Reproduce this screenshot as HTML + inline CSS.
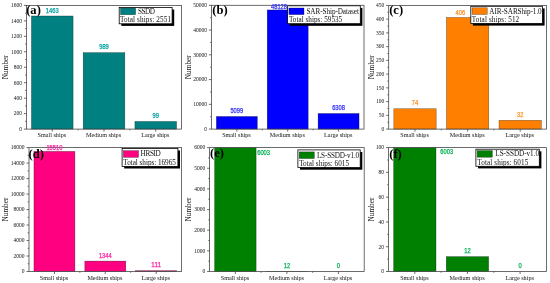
<!DOCTYPE html>
<html lang="en">
<head>
<meta charset="utf-8">
<title>Ship size distribution of SAR ship datasets</title>
<style>
html,body{margin:0;padding:0;background:#fff;}
body{width:550px;height:283px;overflow:hidden;}
svg{display:block;}
text{font-family:"Liberation Serif",serif;fill:#111;}
.tk{font-size:5.5px;}
.xl{font-size:6.15px;}
.yt{font-size:7.3px;}
.lg{font-size:7.2px;}
.pl{font-size:12.6px;font-weight:bold;fill:#000;}
.vl{font-family:"Liberation Sans",sans-serif;font-size:6.8px;stroke-width:0.25px;}
</style>
</head>
<body>
<svg width="550" height="283" viewBox="0 0 550 283">
<defs><filter id="soft" x="-5%" y="-5%" width="110%" height="110%"><feGaussianBlur stdDeviation="0.3"/></filter></defs>
<rect x="0" y="0" width="550" height="283" fill="#fff"/>
<g class="panel" id="panel-a">
<rect x="31.44" y="15.99" width="41.65" height="113.11" fill="#008080" stroke="rgba(0,0,0,0.55)" stroke-width="0.5"/>
<rect x="83.18" y="52.64" width="41.65" height="76.46" fill="#008080" stroke="rgba(0,0,0,0.55)" stroke-width="0.5"/>
<rect x="134.91" y="121.45" width="41.65" height="7.65" fill="#008080" stroke="rgba(0,0,0,0.55)" stroke-width="0.5"/>
<rect x="26.4" y="5.4" width="155.2" height="123.7" fill="none" stroke="#484848" stroke-width="0.8"/>
<path d="M23.9 129.1H26.4M25.1 121.37H26.4M23.9 113.64H26.4M25.1 105.91H26.4M23.9 98.17H26.4M25.1 90.44H26.4M23.9 82.71H26.4M25.1 74.98H26.4M23.9 67.25H26.4M25.1 59.52H26.4M23.9 51.79H26.4M25.1 44.06H26.4M23.9 36.33H26.4M25.1 28.59H26.4M23.9 20.86H26.4M25.1 13.13H26.4M23.9 5.4H26.4M52.27 129.1V131.6M104 129.1V131.6M155.73 129.1V131.6M78.13 129.1V130.4M129.87 129.1V130.4" stroke="#484848" stroke-width="0.8" fill="none"/>
<g class="t" filter="url(#soft)">
<text class="tk" x="22" y="130.9" text-anchor="end">0</text>
<text class="tk" x="22" y="115.44" text-anchor="end">200</text>
<text class="tk" x="22" y="99.97" text-anchor="end">400</text>
<text class="tk" x="22" y="84.51" text-anchor="end">600</text>
<text class="tk" x="22" y="69.05" text-anchor="end">800</text>
<text class="tk" x="22" y="53.59" text-anchor="end">1000</text>
<text class="tk" x="22" y="38.12" text-anchor="end">1200</text>
<text class="tk" x="22" y="22.66" text-anchor="end">1400</text>
<text class="tk" x="22" y="7.2" text-anchor="end">1600</text>
<text class="xl" x="51.87" y="136.8" text-anchor="middle">Small ships</text>
<text class="xl" x="103.6" y="136.8" text-anchor="middle">Medium ships</text>
<text class="xl" x="155.33" y="136.8" text-anchor="middle">Large ships</text>
<text class="yt" transform="translate(8 67.25) rotate(-90)" text-anchor="middle">Number</text>
<text class="vl" x="45.87" y="12.69" textLength="12.8" lengthAdjust="spacingAndGlyphs" style="fill:#00a0a0;stroke:#00a0a0">1463</text>
<text class="vl" x="99.2" y="49.34" textLength="9.6" lengthAdjust="spacingAndGlyphs" style="fill:#00a0a0;stroke:#00a0a0">989</text>
<text class="vl" x="152.53" y="118.15" textLength="6.4" lengthAdjust="spacingAndGlyphs" style="fill:#00a0a0;stroke:#00a0a0">99</text>
</g>
<rect x="121.3" y="9.55" width="52.9" height="16.35" fill="#000"/>
<rect x="119.2" y="7.45" width="52.9" height="16.35" fill="#fff" stroke="#000" stroke-width="0.8"/>
<rect x="120.5" y="8.1" width="15.1" height="6.6" fill="#008080" stroke="rgba(0,0,0,0.6)" stroke-width="0.5"/>
<g class="t" filter="url(#soft)">
<text class="lg" x="138" y="13.8" textLength="16.9" lengthAdjust="spacing">SSDD</text>
<text class="lg" x="120" y="22.1" textLength="51" lengthAdjust="spacing">Total ships: 2551</text>
<text class="pl" x="26.15" y="14.3">(a)</text>
</g>
</g>
<g class="panel" id="panel-b">
<rect x="216.36" y="116.47" width="40.95" height="12.63" fill="#0000ff" stroke="rgba(0,0,0,0.55)" stroke-width="0.5"/>
<rect x="267.23" y="9.94" width="40.95" height="119.16" fill="#0000ff" stroke="rgba(0,0,0,0.55)" stroke-width="0.5"/>
<rect x="318.09" y="113.48" width="40.95" height="15.62" fill="#0000ff" stroke="rgba(0,0,0,0.55)" stroke-width="0.5"/>
<rect x="211.4" y="5.3" width="152.6" height="123.8" fill="none" stroke="#484848" stroke-width="0.8"/>
<path d="M208.9 129.1H211.4M210.1 116.72H211.4M208.9 104.34H211.4M210.1 91.96H211.4M208.9 79.58H211.4M210.1 67.2H211.4M208.9 54.82H211.4M210.1 42.44H211.4M208.9 30.06H211.4M210.1 17.68H211.4M208.9 5.3H211.4M236.83 129.1V131.6M287.7 129.1V131.6M338.57 129.1V131.6M262.27 129.1V130.4M313.13 129.1V130.4" stroke="#484848" stroke-width="0.8" fill="none"/>
<g class="t" filter="url(#soft)">
<text class="tk" x="207" y="130.9" text-anchor="end">0</text>
<text class="tk" x="207" y="106.14" text-anchor="end">10000</text>
<text class="tk" x="207" y="81.38" text-anchor="end">20000</text>
<text class="tk" x="207" y="56.62" text-anchor="end">30000</text>
<text class="tk" x="207" y="31.86" text-anchor="end">40000</text>
<text class="tk" x="207" y="7.1" text-anchor="end">50000</text>
<text class="xl" x="236.43" y="136.8" text-anchor="middle">Small ships</text>
<text class="xl" x="287.3" y="136.8" text-anchor="middle">Medium ships</text>
<text class="xl" x="338.17" y="136.8" text-anchor="middle">Large ships</text>
<text class="yt" transform="translate(191.2 67.2) rotate(-90)" text-anchor="middle">Number</text>
<text class="vl" x="230.43" y="113.17" textLength="12.8" lengthAdjust="spacingAndGlyphs" style="fill:#3030ff;stroke:#3030ff">5099</text>
<text class="vl" x="271" y="8.8" textLength="16" lengthAdjust="spacingAndGlyphs" style="fill:#3030ff;stroke:#3030ff">48128</text>
<text class="vl" x="332.17" y="110.18" textLength="12.8" lengthAdjust="spacingAndGlyphs" style="fill:#3030ff;stroke:#3030ff">6308</text>
</g>
<rect x="289.7" y="7.9" width="72.7" height="17.9" fill="#000"/>
<rect x="287.6" y="5.8" width="72.7" height="17.9" fill="#fff" stroke="#000" stroke-width="0.8"/>
<rect x="288.9" y="8" width="15.1" height="6.6" fill="#0000ff" stroke="rgba(0,0,0,0.6)" stroke-width="0.5"/>
<g class="t" filter="url(#soft)">
<text class="lg" x="306.4" y="13.7" textLength="52.5" lengthAdjust="spacing">SAR-Ship-Dataset</text>
<text class="lg" x="288.9" y="22" textLength="53.3" lengthAdjust="spacing">Total ships: 59535</text>
<text class="pl" x="212.2" y="14.3">(b)</text>
</g>
</g>
<g class="panel" id="panel-c">
<rect x="393.83" y="108.76" width="42.34" height="20.34" fill="#ff8000" stroke="rgba(0,0,0,0.55)" stroke-width="0.5"/>
<rect x="446.43" y="17.5" width="42.34" height="111.6" fill="#ff8000" stroke="rgba(0,0,0,0.55)" stroke-width="0.5"/>
<rect x="499.03" y="120.3" width="42.34" height="8.8" fill="#ff8000" stroke="rgba(0,0,0,0.55)" stroke-width="0.5"/>
<rect x="388.7" y="5.4" width="157.8" height="123.7" fill="none" stroke="#484848" stroke-width="0.8"/>
<path d="M386.2 129.1H388.7M387.4 122.23H388.7M386.2 115.36H388.7M387.4 108.48H388.7M386.2 101.61H388.7M387.4 94.74H388.7M386.2 87.87H388.7M387.4 80.99H388.7M386.2 74.12H388.7M387.4 67.25H388.7M386.2 60.38H388.7M387.4 53.51H388.7M386.2 46.63H388.7M387.4 39.76H388.7M386.2 32.89H388.7M387.4 26.02H388.7M386.2 19.14H388.7M387.4 12.27H388.7M386.2 5.4H388.7M415 129.1V131.6M467.6 129.1V131.6M520.2 129.1V131.6M441.3 129.1V130.4M493.9 129.1V130.4" stroke="#484848" stroke-width="0.8" fill="none"/>
<g class="t" filter="url(#soft)">
<text class="tk" x="384.3" y="130.9" text-anchor="end">0</text>
<text class="tk" x="384.3" y="117.16" text-anchor="end">50</text>
<text class="tk" x="384.3" y="103.41" text-anchor="end">100</text>
<text class="tk" x="384.3" y="89.67" text-anchor="end">150</text>
<text class="tk" x="384.3" y="75.92" text-anchor="end">200</text>
<text class="tk" x="384.3" y="62.18" text-anchor="end">250</text>
<text class="tk" x="384.3" y="48.43" text-anchor="end">300</text>
<text class="tk" x="384.3" y="34.69" text-anchor="end">350</text>
<text class="tk" x="384.3" y="20.94" text-anchor="end">400</text>
<text class="tk" x="384.3" y="7.2" text-anchor="end">450</text>
<text class="xl" x="414.6" y="136.8" text-anchor="middle">Small ships</text>
<text class="xl" x="467.2" y="136.8" text-anchor="middle">Medium ships</text>
<text class="xl" x="519.8" y="136.8" text-anchor="middle">Large ships</text>
<text class="yt" transform="translate(373.8 67.25) rotate(-90)" text-anchor="middle">Number</text>
<text class="vl" x="411.8" y="105.46" textLength="6.4" lengthAdjust="spacingAndGlyphs" style="fill:#ff9020;stroke:#ff9020">74</text>
<text class="vl" x="455.5" y="15.3" textLength="9.6" lengthAdjust="spacingAndGlyphs" style="fill:#ff9020;stroke:#ff9020">406</text>
<text class="vl" x="517" y="117" textLength="6.4" lengthAdjust="spacingAndGlyphs" style="fill:#ff9020;stroke:#ff9020">32</text>
</g>
<rect x="472.9" y="8.4" width="71.7" height="17.2" fill="#000"/>
<rect x="470.8" y="6.3" width="71.7" height="17.2" fill="#fff" stroke="#000" stroke-width="0.8"/>
<rect x="472.1" y="7.8" width="15.1" height="6.6" fill="#ff8000" stroke="rgba(0,0,0,0.6)" stroke-width="0.5"/>
<g class="t" filter="url(#soft)">
<text class="lg" x="489.3" y="13.5" textLength="52.4" lengthAdjust="spacing">AIR-SARShip-1.0</text>
<text class="lg" x="471.8" y="21.8" textLength="47.4" lengthAdjust="spacing">Total ships: 512</text>
<text class="pl" x="389.15" y="14.3">(c)</text>
</g>
</g>
<g class="panel" id="panel-d">
<rect x="33.96" y="151.39" width="40.95" height="120.11" fill="#ff0080" stroke="rgba(0,0,0,0.55)" stroke-width="0.5"/>
<rect x="84.83" y="261.09" width="40.95" height="10.41" fill="#ff0080" stroke="rgba(0,0,0,0.55)" stroke-width="0.5"/>
<rect x="135.69" y="270.64" width="40.95" height="0.86" fill="#ff0080" stroke="rgba(0,0,0,0.55)" stroke-width="0.5"/>
<rect x="29" y="147.6" width="152.6" height="123.9" fill="none" stroke="#484848" stroke-width="0.8"/>
<path d="M26.5 271.5H29M27.7 263.76H29M26.5 256.01H29M27.7 248.27H29M26.5 240.53H29M27.7 232.78H29M26.5 225.04H29M27.7 217.29H29M26.5 209.55H29M27.7 201.81H29M26.5 194.06H29M27.7 186.32H29M26.5 178.57H29M27.7 170.83H29M26.5 163.09H29M27.7 155.34H29M26.5 147.6H29M54.43 271.5V274M105.3 271.5V274M156.17 271.5V274M79.87 271.5V272.8M130.73 271.5V272.8" stroke="#484848" stroke-width="0.8" fill="none"/>
<g class="t" filter="url(#soft)">
<text class="tk" x="24.6" y="273.3" text-anchor="end">0</text>
<text class="tk" x="24.6" y="257.81" text-anchor="end">2000</text>
<text class="tk" x="24.6" y="242.33" text-anchor="end">4000</text>
<text class="tk" x="24.6" y="226.84" text-anchor="end">6000</text>
<text class="tk" x="24.6" y="211.35" text-anchor="end">8000</text>
<text class="tk" x="24.6" y="195.86" text-anchor="end">10000</text>
<text class="tk" x="24.6" y="180.38" text-anchor="end">12000</text>
<text class="tk" x="24.6" y="164.89" text-anchor="end">14000</text>
<text class="tk" x="24.6" y="149.4" text-anchor="end">16000</text>
<text class="xl" x="54.03" y="279.7" text-anchor="middle">Small ships</text>
<text class="xl" x="104.9" y="279.7" text-anchor="middle">Medium ships</text>
<text class="xl" x="155.77" y="279.7" text-anchor="middle">Large ships</text>
<text class="yt" transform="translate(8.3 209.55) rotate(-90)" text-anchor="middle">Number</text>
<text class="vl" x="46.43" y="150.4" textLength="16" lengthAdjust="spacingAndGlyphs" style="fill:#ff20a0;stroke:#ff20a0">15510</text>
<text class="vl" x="98.9" y="257.79" textLength="12.8" lengthAdjust="spacingAndGlyphs" style="fill:#ff20a0;stroke:#ff20a0">1344</text>
<text class="vl" x="151.37" y="267.34" textLength="9.6" lengthAdjust="spacingAndGlyphs" style="fill:#ff20a0;stroke:#ff20a0">111</text>
</g>
<rect x="124.2" y="150.5" width="55.8" height="18" fill="#000"/>
<rect x="122.1" y="148.4" width="55.8" height="18" fill="#fff" stroke="#000" stroke-width="0.8"/>
<rect x="123.4" y="150.7" width="15.1" height="6.6" fill="#ff0080" stroke="rgba(0,0,0,0.6)" stroke-width="0.5"/>
<g class="t" filter="url(#soft)">
<text class="lg" x="140.6" y="156.4" textLength="20.2" lengthAdjust="spacing">HRSID</text>
<text class="lg" x="123.3" y="164.7" textLength="52.5" lengthAdjust="spacing">Total ships: 16965</text>
<text class="pl" x="28.45" y="157.6">(d)</text>
</g>
</g>
<g class="panel" id="panel-e">
<rect x="214.62" y="147.6" width="41.48" height="123.9" fill="#008000" stroke="rgba(0,0,0,0.55)" stroke-width="0.5"/>
<rect x="266.16" y="271.25" width="41.48" height="0.25" fill="#008000" stroke="rgba(0,0,0,0.55)" stroke-width="0.5"/>
<rect x="209.6" y="147.6" width="154.6" height="123.9" fill="none" stroke="#484848" stroke-width="0.8"/>
<path d="M207.1 271.5H209.6M208.3 261.18H209.6M207.1 250.85H209.6M208.3 240.53H209.6M207.1 230.2H209.6M208.3 219.88H209.6M207.1 209.55H209.6M208.3 199.22H209.6M207.1 188.9H209.6M208.3 178.57H209.6M207.1 168.25H209.6M208.3 157.93H209.6M207.1 147.6H209.6M235.37 271.5V274M286.9 271.5V274M338.43 271.5V274M261.13 271.5V272.8M312.67 271.5V272.8" stroke="#484848" stroke-width="0.8" fill="none"/>
<g class="t" filter="url(#soft)">
<text class="tk" x="205.2" y="273.3" text-anchor="end">0</text>
<text class="tk" x="205.2" y="252.65" text-anchor="end">1000</text>
<text class="tk" x="205.2" y="232" text-anchor="end">2000</text>
<text class="tk" x="205.2" y="211.35" text-anchor="end">3000</text>
<text class="tk" x="205.2" y="190.7" text-anchor="end">4000</text>
<text class="tk" x="205.2" y="170.05" text-anchor="end">5000</text>
<text class="tk" x="205.2" y="149.4" text-anchor="end">6000</text>
<text class="xl" x="234.97" y="279.7" text-anchor="middle">Small ships</text>
<text class="xl" x="286.5" y="279.7" text-anchor="middle">Medium ships</text>
<text class="xl" x="338.03" y="279.7" text-anchor="middle">Large ships</text>
<text class="yt" transform="translate(191.2 209.55) rotate(-90)" text-anchor="middle">Number</text>
<text class="vl" x="257.2" y="154.6" textLength="12.8" lengthAdjust="spacingAndGlyphs" style="fill:#00b050;stroke:#00b050">6003</text>
<text class="vl" x="283.7" y="267.95" textLength="6.4" lengthAdjust="spacingAndGlyphs" style="fill:#00b050;stroke:#00b050">12</text>
<text class="vl" x="336.83" y="268.2" textLength="3.2" lengthAdjust="spacingAndGlyphs" style="fill:#00b050;stroke:#00b050">0</text>
</g>
<rect x="300" y="152" width="62.3" height="17.7" fill="#000"/>
<rect x="297.9" y="149.9" width="62.3" height="17.7" fill="#fff" stroke="#000" stroke-width="0.8"/>
<rect x="299.2" y="151.9" width="15.1" height="6.6" fill="#008000" stroke="rgba(0,0,0,0.6)" stroke-width="0.5"/>
<g class="t" filter="url(#soft)">
<text class="lg" x="316.9" y="157.6" textLength="42.2" lengthAdjust="spacing">LS-SSDD-v1.0</text>
<text class="lg" x="299.2" y="165.9" textLength="49.8" lengthAdjust="spacing">Total ships: 6015</text>
<text class="pl" x="210.05" y="157">(e)</text>
</g>
</g>
<g class="panel" id="panel-f">
<rect x="393.63" y="147.6" width="42.37" height="123.9" fill="#008000" stroke="rgba(0,0,0,0.55)" stroke-width="0.5"/>
<rect x="446.27" y="256.63" width="42.37" height="14.87" fill="#008000" stroke="rgba(0,0,0,0.55)" stroke-width="0.5"/>
<rect x="388.5" y="147.6" width="157.9" height="123.9" fill="none" stroke="#484848" stroke-width="0.8"/>
<path d="M386 271.5H388.5M387.2 259.11H388.5M386 246.72H388.5M387.2 234.33H388.5M386 221.94H388.5M387.2 209.55H388.5M386 197.16H388.5M387.2 184.77H388.5M386 172.38H388.5M387.2 159.99H388.5M386 147.6H388.5M414.82 271.5V274M467.45 271.5V274M520.08 271.5V274M441.13 271.5V272.8M493.77 271.5V272.8" stroke="#484848" stroke-width="0.8" fill="none"/>
<g class="t" filter="url(#soft)">
<text class="tk" x="384.1" y="273.3" text-anchor="end">0</text>
<text class="tk" x="384.1" y="248.52" text-anchor="end">20</text>
<text class="tk" x="384.1" y="223.74" text-anchor="end">40</text>
<text class="tk" x="384.1" y="198.96" text-anchor="end">60</text>
<text class="tk" x="384.1" y="174.18" text-anchor="end">80</text>
<text class="tk" x="384.1" y="149.4" text-anchor="end">100</text>
<text class="xl" x="414.42" y="279.7" text-anchor="middle">Small ships</text>
<text class="xl" x="467.05" y="279.7" text-anchor="middle">Medium ships</text>
<text class="xl" x="519.68" y="279.7" text-anchor="middle">Large ships</text>
<text class="yt" transform="translate(374.2 209.55) rotate(-90)" text-anchor="middle">Number</text>
<text class="vl" x="440.3" y="153.9" textLength="12.8" lengthAdjust="spacingAndGlyphs" style="fill:#00b050;stroke:#00b050">6003</text>
<text class="vl" x="464.25" y="253.33" textLength="6.4" lengthAdjust="spacingAndGlyphs" style="fill:#00b050;stroke:#00b050">12</text>
<text class="vl" x="518.48" y="268.2" textLength="3.2" lengthAdjust="spacingAndGlyphs" style="fill:#00b050;stroke:#00b050">0</text>
</g>
<rect x="478" y="151.3" width="63.4" height="17.1" fill="#000"/>
<rect x="475.9" y="149.2" width="63.4" height="17.1" fill="#fff" stroke="#000" stroke-width="0.8"/>
<rect x="477.2" y="150.6" width="15.1" height="6.6" fill="#008000" stroke="rgba(0,0,0,0.6)" stroke-width="0.5"/>
<g class="t" filter="url(#soft)">
<text class="lg" x="495.3" y="156.3" textLength="43.7" lengthAdjust="spacing">LS-SSDD-v1.0</text>
<text class="lg" x="477.2" y="164.6" textLength="51.1" lengthAdjust="spacing">Total ships: 6015</text>
<text class="pl" x="389.2" y="157.6">(f)</text>
</g>
</g>
</svg>
</body>
</html>
